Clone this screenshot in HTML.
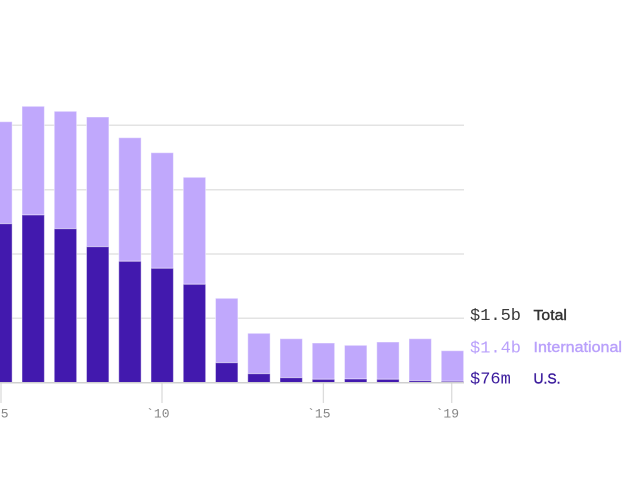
<!DOCTYPE html>
<html>
<head>
<meta charset="utf-8">
<style>
html,body{margin:0;padding:0;background:#fff;}
svg{display:block;}
</style>
</head>
<body>
<svg width="640" height="480" viewBox="0 0 640 480" xmlns="http://www.w3.org/2000/svg">
<rect width="640" height="480" fill="#fff"/>
<g stroke="#e3e3e3" stroke-width="1.5">
<line x1="0" y1="125.3" x2="464" y2="125.3"/>
<line x1="0" y1="189.7" x2="464" y2="189.7"/>
<line x1="0" y1="254" x2="464" y2="254"/>
<line x1="0" y1="318.3" x2="464" y2="318.3"/>
</g>
<g stroke="#dcdcdc" stroke-width="1.3">
<line x1="1" y1="383" x2="1" y2="403"/>
<line x1="162" y1="383" x2="162" y2="403"/>
<line x1="323.4" y1="383" x2="323.4" y2="403"/>
<line x1="451.7" y1="383" x2="451.7" y2="403"/>
</g>
<g stroke="rgba(255,255,255,0.45)" stroke-width="1">
<rect x="-10.25" y="121.7" width="22.4" height="102" fill="#c0a8fc"/>
<rect x="-10.25" y="223.7" width="22.4" height="158.8" fill="#4219ae"/>
<rect x="22" y="106.3" width="22.4" height="108.7" fill="#c0a8fc"/>
<rect x="22" y="215" width="22.4" height="167.5" fill="#4219ae"/>
<rect x="54.25" y="111.3" width="22.4" height="117.4" fill="#c0a8fc"/>
<rect x="54.25" y="228.7" width="22.4" height="153.8" fill="#4219ae"/>
<rect x="86.5" y="117" width="22.4" height="129.7" fill="#c0a8fc"/>
<rect x="86.5" y="246.7" width="22.4" height="135.8" fill="#4219ae"/>
<rect x="118.75" y="137.7" width="22.4" height="123.6" fill="#c0a8fc"/>
<rect x="118.75" y="261.3" width="22.4" height="121.2" fill="#4219ae"/>
<rect x="151" y="152.7" width="22.4" height="115.6" fill="#c0a8fc"/>
<rect x="151" y="268.3" width="22.4" height="114.2" fill="#4219ae"/>
<rect x="183.25" y="177.3" width="22.4" height="107" fill="#c0a8fc"/>
<rect x="183.25" y="284.3" width="22.4" height="98.2" fill="#4219ae"/>
<rect x="215.5" y="298.3" width="22.4" height="64.4" fill="#c0a8fc"/>
<rect x="215.5" y="362.7" width="22.4" height="19.8" fill="#4219ae"/>
<rect x="247.75" y="333.3" width="22.4" height="40.4" fill="#c0a8fc"/>
<rect x="247.75" y="373.7" width="22.4" height="8.8" fill="#4219ae"/>
<rect x="280" y="338.7" width="22.4" height="39" fill="#c0a8fc"/>
<rect x="280" y="377.7" width="22.4" height="4.8" fill="#4219ae"/>
<rect x="312.25" y="343" width="22.4" height="36.3" fill="#c0a8fc"/>
<rect x="312.25" y="379.3" width="22.4" height="3.2" fill="#4219ae"/>
<rect x="344.5" y="345.3" width="22.4" height="33.7" fill="#c0a8fc"/>
<rect x="344.5" y="379" width="22.4" height="3.5" fill="#4219ae"/>
<rect x="376.75" y="342" width="22.4" height="37.3" fill="#c0a8fc"/>
<rect x="376.75" y="379.3" width="22.4" height="3.2" fill="#4219ae"/>
<rect x="409" y="338.7" width="22.4" height="42" fill="#c0a8fc"/>
<rect x="409" y="380.7" width="22.4" height="1.8" fill="#4219ae"/>
<rect x="441.25" y="350.7" width="22.4" height="30.6" fill="#c0a8fc"/>
<rect x="441.25" y="381.3" width="22.4" height="1.2" fill="#4219ae"/>
</g>
<line x1="0" y1="382.8" x2="464" y2="382.8" stroke="#cfcfcf" stroke-width="1.5"/>
<g font-family="'Liberation Mono', monospace" font-size="13" fill="#858585" text-anchor="end">
<text x="8.5" y="417.5">`05</text>
<text x="169.5" y="417.5">`10</text>
<text x="330.5" y="417.5">`15</text>
<text x="459" y="417.5">`19</text>
</g>
<g font-family="'Liberation Mono', monospace" font-size="17">
<text x="470" y="320" fill="#3a3a3a">$1.5b</text>
<text x="470" y="352.5" fill="#b9a0fb">$1.4b</text>
<text x="470" y="383.5" fill="#3a1a9c">$76m</text>
</g>
<g font-family="'Liberation Sans', sans-serif" font-size="15" stroke-width="0.4">
<text x="533.5" y="320" fill="#333" stroke="#333" textLength="33.4" lengthAdjust="spacingAndGlyphs">Total</text>
<text x="533.5" y="352" fill="#b9a0fb" stroke="#b9a0fb" textLength="88.5" lengthAdjust="spacingAndGlyphs">International</text>
<text x="533.5" y="383.3" fill="#3a1a9c" stroke="#3a1a9c" textLength="27" lengthAdjust="spacingAndGlyphs">U.S.</text>
</g>
</svg>
</body>
</html>
